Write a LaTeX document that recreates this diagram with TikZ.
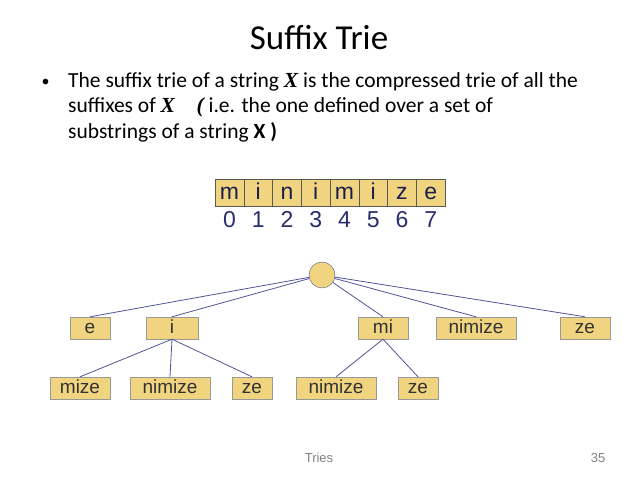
\documentclass[tikz,border=0pt]{standalone}
\usepackage{fontspec}
\setmainfont{Carlito}
\newfontfamily\arial{Liberation Sans}
\newfontfamily\tnr{Liberation Serif}
\definecolor{gold}{RGB}{240,212,128}
\definecolor{edge}{RGB}{80,84,150}
\definecolor{digit}{RGB}{40,44,110}
\begin{document}
\begin{tikzpicture}[x=1pt,y=-1pt,
  cell/.style={draw=gray!70!black,fill=gold,minimum width=28.75pt,minimum height=27pt,inner sep=0pt,text height=15pt,text depth=1pt,font=\arial\fontsize{23}{23}\selectfont,text=digit!70!black},
  box/.style={draw=gray!80,fill=gold,minimum height=22pt,inner sep=0pt,text height=13pt,text depth=2pt,font=\arial\fontsize{19}{19}\selectfont,text=black!80},
  ln/.style={draw=edge,line width=0.8pt}]
\useasboundingbox (0,0) rectangle (638,478);
\node at (319,38) {\fontsize{35}{35}\selectfont Suffix Trie};
\node[anchor=west] at (38,83) {\fontsize{16}{16}\selectfont\textbullet};
\node[anchor=west,inner sep=0pt] at (68,82) {\fontsize{21.5}{21.5}\selectfont The suffix trie of a string {\tnr\bfseries\itshape X} is the compressed trie of all the};
\node[anchor=west,inner sep=0pt] at (68,107) {\fontsize{21.5}{21.5}\selectfont suffixes of {\tnr\bfseries\itshape X}\quad{\tnr\bfseries\itshape (} i.e. the one defined over a set of};
\node[anchor=west,inner sep=0pt] at (68,132) {\fontsize{21.5}{21.5}\selectfont substrings of a string \textbf{X )}};
\foreach \c [count=\i from 0] in {m,i,n,i,m,i,z,e}{
  \node[cell] (c\i) at (229.4+28.75*\i,192.5) {\c};
  \node[font=\arial\fontsize{23}{23}\selectfont,text=digit,text height=17pt,text depth=1pt] (d\i) at (229.4+28.75*\i,220) {\i};
}
\node[circle,draw=edge,fill=gold,minimum size=26pt,inner sep=0pt] (r) at (322,275) {};
\node[box,minimum width=40pt] (e) at (90,328) {e};
\node[box,minimum width=52pt] (i) at (172,328) {i};
\node[box,minimum width=50pt] (mi) at (383,328) {mi};
\node[box,minimum width=80pt] (n1) at (476,328) {nimize};
\node[box,minimum width=50pt] (z1) at (585,328) {ze};
\node[box,minimum width=60pt] (mz) at (80,388) {mize};
\node[box,minimum width=80pt] (n2) at (170,388) {nimize};
\node[box,minimum width=40pt] (z2) at (252,388) {ze};
\node[box,minimum width=80pt] (n3) at (336,388) {nimize};
\node[box,minimum width=40pt] (z3) at (418,388) {ze};
\foreach \t in {e,i,mi,n1,z1} \draw[ln] (r) -- (\t.north);
\foreach \t in {mz,n2,z2} \draw[ln] (i.south) -- (\t.north);
\foreach \t in {n3,z3} \draw[ln] (mi.south) -- (\t.north);
\node[text=gray,font=\arial\fontsize{13}{13}\selectfont] (ft) at (319,458) {Tries};
\node[text=gray,font=\arial\fontsize{13}{13}\selectfont] (pg) at (598,458) {35};
\end{tikzpicture}
\end{document}
